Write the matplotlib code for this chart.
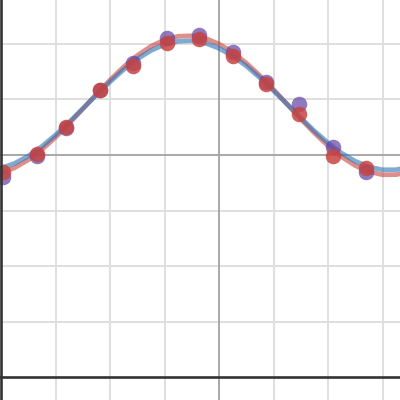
"""Two noisy samples of a sine-like wave with their fitted curves."""

import matplotlib

matplotlib.use("Agg")
import matplotlib.pyplot as plt  # noqa: E402

# sample points (two series share the same x)
pts_x = [-3.97, -3.35, -2.80, -2.18, -1.58, -0.95, -0.37, 0.26, 0.86, 1.47, 2.09, 2.69]
purple_y = [-0.39, -0.02, 0.49, 1.17, 1.66, 2.10, 2.16, 1.86, 1.32, 0.91, 0.14, -0.30]
red_y = [-0.31, 0.02, 0.51, 1.17, 1.61, 2.02, 2.08, 1.78, 1.28, 0.73, -0.01, -0.23]

# fitted curves
curve_x = [-4.0, -3.75, -3.5, -3.25, -3.0, -2.75, -2.5, -2.25, -2.0, -1.75, -1.5,
           -1.25, -1.0, -0.75, -0.5, -0.25, 0.0, 0.25, 0.5, 0.75, 1.0, 1.25, 1.5,
           1.75, 2.0, 2.25, 2.5, 2.75, 3.0, 3.25, 3.5]
blue_fit = [-0.236, -0.150, -0.017, 0.156, 0.361, 0.592, 0.836, 1.082, 1.318, 1.538,
            1.728, 1.880, 1.989, 2.048, 2.057, 2.013, 1.920, 1.780, 1.601, 1.390,
            1.157, 0.913, 0.667, 0.431, 0.218, 0.032, -0.113, -0.215, -0.266, -0.265,
            -0.213]
red_fit = [-0.323, -0.230, -0.087, 0.099, 0.320, 0.569, 0.831, 1.096, 1.351, 1.587,
           1.792, 1.957, 2.073, 2.137, 2.146, 2.100, 1.999, 1.849, 1.655, 1.428,
           1.178, 0.914, 0.649, 0.395, 0.166, -0.034, -0.191, -0.300, -0.356, -0.354,
           -0.298]

grid_x = [-3, -2, -1, 1, 2, 3]
grid_y = [-3, -2, -1, 1, 2]

BLUE = "#2d70b3"
RED = "#c74440"
PURPLE = "#6042a6"


def main():
    fig = plt.figure(figsize=(4, 4), dpi=100)
    ax = fig.add_axes([0, 0, 1, 1])
    ax.set_xlim(-4.02, 3.32)
    ax.set_ylim(-4.41, 2.79)

    for gx in grid_x:
        ax.axvline(gx, color="#dfdfdf", linewidth=1.4, zorder=0)
    for gy in grid_y:
        ax.axhline(gy, color="#dfdfdf", linewidth=1.4, zorder=0)
    ax.axvline(0, color="#a8a8a8", linewidth=1.4, zorder=0.5)
    ax.axhline(0, color="#a8a8a8", linewidth=1.4, zorder=0.5)

    ax.plot(curve_x, red_fit, color=RED, alpha=0.6, linewidth=3.4,
            solid_capstyle="round", zorder=2)
    ax.plot(curve_x, blue_fit, color=BLUE, alpha=0.6, linewidth=3.4,
            solid_capstyle="round", zorder=2)

    ax.scatter(pts_x, purple_y, s=125, color=PURPLE, alpha=0.7, linewidths=0, zorder=3)
    ax.scatter(pts_x, red_y, s=125, color=RED, alpha=0.85, linewidths=0, zorder=4)

    for side in ("top", "right"):
        ax.spines[side].set_visible(False)
    ax.spines["left"].set_position(("data", -4))
    ax.spines["bottom"].set_position(("data", -4))
    for side in ("left", "bottom"):
        ax.spines[side].set_color("#333333")
        ax.spines[side].set_linewidth(1.9)
        ax.spines[side].set_zorder(5)
    ax.set_xticks([])
    ax.set_yticks([])

    fig.savefig("out.png", dpi=100)


if __name__ == "__main__":
    main()
